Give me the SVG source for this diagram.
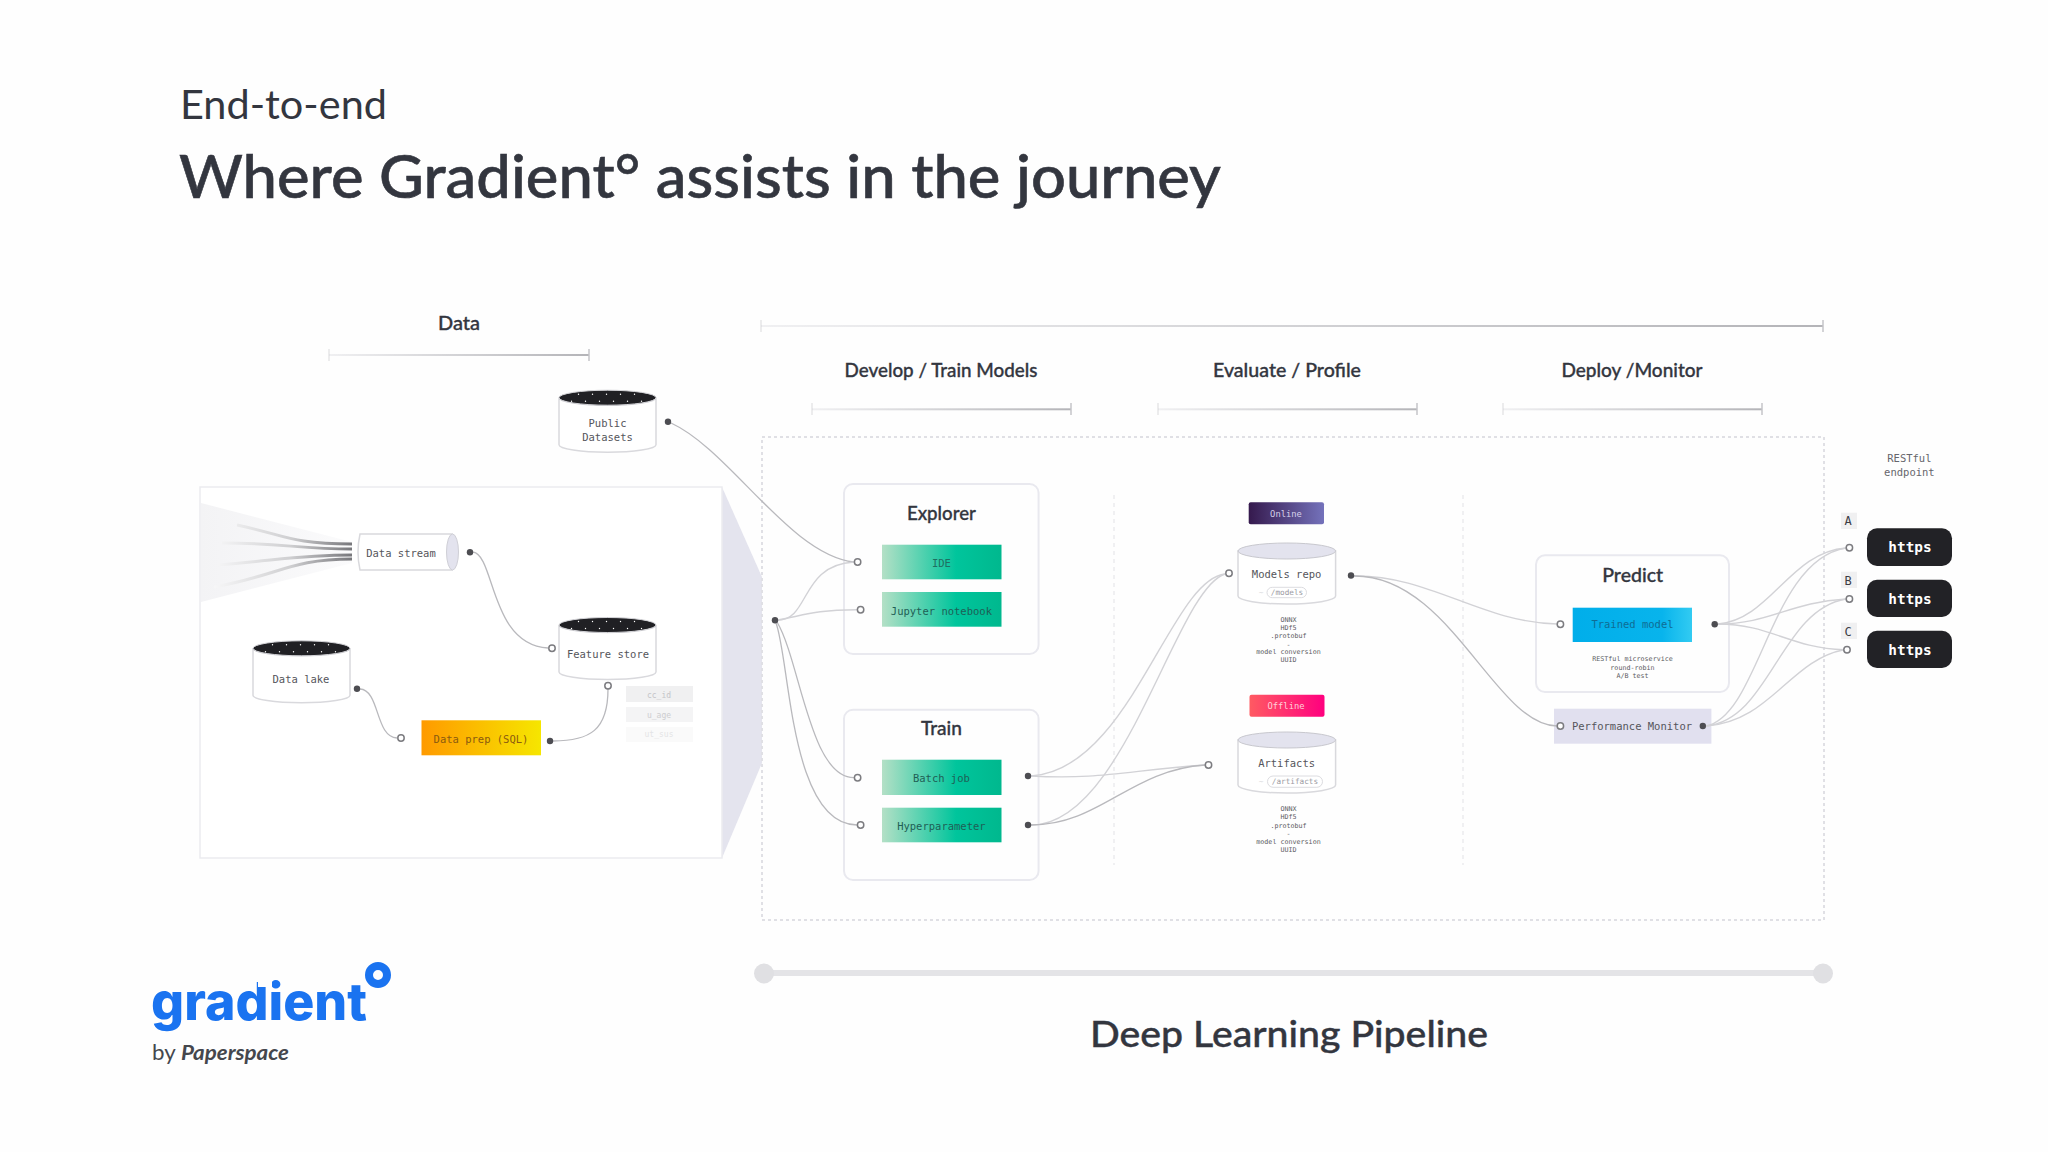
<svg xmlns="http://www.w3.org/2000/svg" width="2048" height="1152" viewBox="0 0 2048 1152">
<style>
text{font-family:"Lato","Noto Sans","Liberation Sans",sans-serif;fill:#33363f}
.h{font-size:20px;font-weight:500;text-anchor:middle;stroke:#33363f;stroke-width:.35}
.m{font-family:"DejaVu Sans Mono","Liberation Mono",monospace;font-size:10.5px;text-anchor:middle;fill:#55555b}
.s{font-family:"DejaVu Sans Mono","Liberation Mono",monospace;font-size:6.7px;text-anchor:middle;fill:#5c5c62}
.l{font-family:"DejaVu Sans Mono","Liberation Mono",monospace;font-size:8px;text-anchor:middle;fill:#c4c4c8}
.p{font-family:"DejaVu Sans Mono","Liberation Mono",monospace;font-size:7.7px;text-anchor:middle;fill:#9a9aa2}
.b{font-family:"DejaVu Sans Mono","Liberation Mono",monospace;font-size:8.8px;text-anchor:middle}
.w{font-family:"DejaVu Sans Mono","Liberation Mono",monospace;font-size:14.4px;font-weight:700;text-anchor:middle;fill:#fff}
.ab{font-family:"DejaVu Sans Mono","Liberation Mono",monospace;font-size:12px;text-anchor:middle;fill:#3c3c44}
.card{fill:none;stroke:#e9e9ef;stroke-width:2}
.cyl{fill:#fff;stroke:#d9d9dd;stroke-width:1.5}
.c{fill:none;stroke:#d2d2d6;stroke-width:1.4}
.cd{fill:none;stroke:#b9b9bd;stroke-width:1.3}
.dot{fill:#4d4d52}
.open{fill:#fff;stroke:#7c7c80;stroke-width:1.5}
.pill{fill:#fff;stroke:#dcdce0;stroke-width:1}
.dash{fill:none;stroke:#e0e0e5;stroke-width:2;stroke-dasharray:3 3}
.lg{fill:#e3e3ee;stroke:#cfcfd6;stroke-width:1}
.dv{stroke:#ebebee;stroke-width:1.5;stroke-dasharray:4 4}
.tag{fill:#f0f0f1}
</style>
<defs>
<linearGradient id="bar"><stop offset="0" stop-color="#f0f0f2"/><stop offset="1" stop-color="#b4b4b8"/></linearGradient>
<linearGradient id="g"><stop offset="0" stop-color="#b4e0c6"/><stop offset=".62" stop-color="#00c59c"/><stop offset="1" stop-color="#00b88e"/></linearGradient>
<linearGradient id="o"><stop offset="0" stop-color="#ff9a00"/><stop offset="1" stop-color="#f6e600"/></linearGradient>
<linearGradient id="on"><stop offset="0" stop-color="#35194d"/><stop offset="1" stop-color="#7472bb"/></linearGradient>
<linearGradient id="off"><stop offset="0" stop-color="#ff5a62"/><stop offset="1" stop-color="#ff007f"/></linearGradient>
<linearGradient id="bl"><stop offset="0" stop-color="#00aeea"/><stop offset=".75" stop-color="#08b4ec"/><stop offset="1" stop-color="#32cbf2"/></linearGradient>
<linearGradient id="wedge"><stop offset="0" stop-color="#f3f3f5"/><stop offset="1" stop-color="#fbfbfc"/></linearGradient>
<linearGradient id="st" gradientUnits="userSpaceOnUse" x1="215" y1="0" x2="352" y2="0"><stop offset="0" stop-color="#f6f6f7"/><stop offset=".55" stop-color="#cfcfd1"/><stop offset="1" stop-color="#77777b"/></linearGradient>
<g id="top">
<ellipse cx="0" cy="0" rx="48.5" ry="7.5" fill="#202024" stroke="#d4d4d8" stroke-width="1"/>
<g fill="#fff"><circle cx="-29" cy="-3.5" r=".7"/><circle cx="-15" cy="-3.5" r=".7"/><circle cx="-1" cy="-3.5" r=".7"/><circle cx="13" cy="-3.5" r=".7"/><circle cx="27" cy="-3.5" r=".7"/><circle cx="-36" cy="3.5" r=".7"/><circle cx="-22" cy="3.5" r=".7"/><circle cx="-8" cy="3.5" r=".7"/><circle cx="6" cy="3.5" r=".7"/><circle cx="20" cy="3.5" r=".7"/><circle cx="34" cy="3.5" r=".7"/></g>
</g>
<path id="body" d="M-48.5 0V47A48.5 7.5 0 0 0 48.5 47V0A48.5 7.5 0 0 1 -48.5 0Z" class="cyl"/>
<path id="tick" d="M0-6V6" stroke="#c4c4c8" stroke-width="1.5"/>
</defs>
<rect width="2048" height="1152" fill="#fefefe"/>

<g id="header">
<text x="180" y="119" font-size="40" textLength="207" lengthAdjust="spacingAndGlyphs">End-to-end</text>
<text x="179" y="198" font-size="60" font-weight="500" stroke="#33363f" stroke-width=".6" textLength="1042" lengthAdjust="spacingAndGlyphs">Where Gradient° assists in the journey</text>
</g>

<g id="brackets">
<text class="h" x="459" y="330" textLength="42" lengthAdjust="spacingAndGlyphs">Data</text>
<rect x="329" y="354" width="260" height="2" fill="url(#bar)"/><use href="#tick" x="329" y="355" opacity=".4"/><use href="#tick" x="589" y="355"/>
<rect x="761" y="325" width="1062" height="2" fill="url(#bar)"/><use href="#tick" x="761" y="326" opacity=".4"/><use href="#tick" x="1823" y="326"/>
<text class="h" x="941" y="377" textLength="193" lengthAdjust="spacingAndGlyphs">Develop / Train Models</text>
<text class="h" x="1287" y="377" textLength="148" lengthAdjust="spacingAndGlyphs">Evaluate / Profile</text>
<text class="h" x="1632" y="377" textLength="141" lengthAdjust="spacingAndGlyphs">Deploy /Monitor</text>
<rect x="812" y="408.3" width="259" height="2" fill="url(#bar)"/><use href="#tick" x="812" y="409" opacity=".4"/><use href="#tick" x="1071" y="409"/>
<rect x="1158" y="408.3" width="259" height="2" fill="url(#bar)"/><use href="#tick" x="1158" y="409" opacity=".4"/><use href="#tick" x="1417" y="409"/>
<rect x="1503" y="408.3" width="259" height="2" fill="url(#bar)"/><use href="#tick" x="1503" y="409" opacity=".4"/><use href="#tick" x="1762" y="409"/>
</g>

<g id="data-panel">
<polygon points="722,487 762,577 762,763 722,858" fill="#e4e4ee"/>
<rect x="200" y="487" width="522" height="371" fill="#fff" stroke="#ebebef" stroke-width="1.5"/>
<polygon points="201,503 352,542 352,563 201,602" fill="url(#wedge)"/>
<g fill="none" stroke="url(#st)" stroke-width="3">
<path d="M237 525C285 535 290 544 352 544"/>
<path d="M222 543C280 543 300 549 352 549"/>
<path d="M218 565C280 560 300 555 352 555"/>
<path d="M214 587C280 575 290 559 352 559"/>
</g>
</g>
<rect id="pipeline-frame" class="dash" x="762" y="437" width="1062" height="483"/>
<line class="dv" x1="1114" y1="495" x2="1114" y2="865"/>
<line class="dv" x1="1463" y1="495" x2="1463" y2="865"/>

<g id="explorer">
<rect class="card" x="844" y="484" width="194.6" height="170" rx="9"/>
<text class="h" x="941.4" y="519.8" textLength="69" lengthAdjust="spacingAndGlyphs">Explorer</text>
<rect x="882" y="544.7" width="119.5" height="34.6" fill="url(#g)"/><text class="m" x="941.4" y="566.7" style="fill:#1f6f62">IDE</text>
<rect x="882" y="592" width="119.5" height="34.7" fill="url(#g)"/><text class="m" x="941.4" y="615" style="fill:#1f5f56">Jupyter notebook</text>
</g>
<g id="train">
<rect class="card" x="844" y="709.7" width="194.6" height="170.3" rx="9"/>
<text class="h" x="941.4" y="734.8" textLength="41" lengthAdjust="spacingAndGlyphs">Train</text>
<rect x="882" y="759.7" width="119.5" height="35.3" fill="url(#g)"/><text class="m" x="941.4" y="782" style="fill:#1f5f56">Batch job</text>
<rect x="882" y="807.7" width="119.5" height="34.6" fill="url(#g)"/><text class="m" x="941.4" y="830" style="fill:#1f5f56">Hyperparameter</text>
</g>
<g id="predict">
<rect class="card" x="1536" y="555.3" width="193" height="136.7" rx="9"/>
<text class="h" x="1632.7" y="582.2" textLength="61" lengthAdjust="spacingAndGlyphs">Predict</text>
<rect x="1572.7" y="607.7" width="119.3" height="34.3" fill="url(#bl)"/><text class="m" x="1632.5" y="627.7" style="fill:#0f6d94">Trained model</text>
<text class="s" x="1632.5" y="661.3">RESTful microservice</text><text class="s" x="1632.5" y="669.7">round-robin</text><text class="s" x="1632.5" y="677.7">A/B test</text>
</g>
<g id="performance-monitor">
<rect x="1554" y="708.7" width="157.4" height="35" fill="#e1e0ef"/>
<text class="m" x="1632" y="730">Performance Monitor</text>
</g>

<g id="connectors">
<path class="cd" d="M671 423C730 450 790 555 854 562"/>
<path class="c" d="M778 620C810 620 800 565 854 562"/>
<path class="c" d="M778 620C805 615 815 610 857 609.7"/>
<path class="cd" d="M777 622C800 660 810 778 854 777.7"/>
<path class="cd" d="M776 623C790 660 790 825 857 825"/>
<path class="cd" d="M473 552C495 555 490 645 548 648"/>
<path class="cd" d="M360 689C380 690 375 737 397 738"/>
<path class="cd" d="M553 741C590 741 608 730 608 689"/>
<path class="c" d="M1031 776C1130 770 1170 580 1225 574"/>
<path class="c" d="M1031 825C1125 825 1175 590 1225 574"/>
<path class="c" d="M1031 776C1100 780 1130 770 1205 765"/>
<path class="cd" d="M1031 825C1100 825 1130 770 1205 765"/>
<path class="c" d="M1354 576C1430 575 1480 622 1557 624"/>
<path class="cd" d="M1354 576C1450 575 1495 725 1557 726"/>
<path class="c" d="M1718 624C1770 620 1790 552 1846 548"/>
<path class="c" d="M1718 624C1770 624 1790 602 1846 599"/>
<path class="c" d="M1718 624C1770 624 1790 648 1844 649.7"/>
<path class="c" d="M1706 726C1760 715 1770 560 1846 548"/>
<path class="c" d="M1706 726C1770 720 1780 610 1846 599"/>
<path class="c" d="M1706 726C1770 722 1790 660 1844 649.7"/>
</g>

<g id="ports">
<circle class="open" cx="857.6" cy="562" r="3.2"/><circle class="open" cx="860.6" cy="609.7" r="3.2"/>
<circle id="fan-out" class="dot" cx="775" cy="620.3" r="3.2"/>
<circle class="open" cx="857.6" cy="777.7" r="3.2"/><circle class="open" cx="860.6" cy="825" r="3.2"/>
<circle class="dot" cx="1028" cy="776" r="3.2"/><circle class="dot" cx="1028" cy="825" r="3.2"/>
<circle class="open" cx="1560.4" cy="624.3" r="3.2"/><circle class="dot" cx="1714.7" cy="624.3" r="3.2"/>
<circle class="open" cx="1560.4" cy="726" r="3.2"/><circle class="dot" cx="1702.8" cy="726" r="3.2"/>
</g>

<g id="public-datasets">
<use href="#body" x="607.5" y="397.7"/><use href="#top" x="607.5" y="397.7"/>
<text class="m" x="607.5" y="426.7">Public</text><text class="m" x="607.5" y="440.7">Datasets</text>
<circle class="dot" cx="668" cy="421.7" r="3.2"/>
</g>
<g id="data-stream">
<path d="M360 534H452V570H360Q356 552 360 534Z" class="cyl"/>
<ellipse class="lg" cx="452.5" cy="552" rx="6" ry="18"/>
<text class="m" x="401" y="557">Data stream</text>
<circle class="dot" cx="470" cy="552.3" r="3.2"/>
</g>
<g id="data-lake">
<use href="#body" x="301.5" y="648.3"/><use href="#top" x="301.5" y="648.3"/>
<text class="m" x="301" y="682.7">Data lake</text>
<circle class="dot" cx="357" cy="688.7" r="3.2"/>
</g>
<g id="feature-store">
<use href="#body" x="607.5" y="625"/><use href="#top" x="607.5" y="625"/>
<text class="m" x="608" y="657.7">Feature store</text>
<circle class="open" cx="552" cy="648.3" r="3.2"/><circle class="open" cx="608" cy="685.7" r="3.2"/>
<rect class="tag" x="626" y="686" width="67" height="16"/><text class="l" x="659" y="698">cc_id</text>
<rect class="tag" x="626" y="707" width="67" height="15" opacity=".7"/><text class="l" x="659" y="718" opacity=".8">u_age</text>
<rect class="tag" x="626" y="727" width="67" height="15" opacity=".35"/><text class="l" x="659" y="737" opacity=".4">ut_sus</text>
</g>
<g id="data-prep">
<rect x="421.5" y="720.3" width="119.5" height="35" fill="url(#o)"/>
<text class="m" x="481" y="742.7" style="fill:#8a5a10">Data prep (SQL)</text>
<circle class="open" cx="401" cy="738" r="3.2"/><circle class="dot" cx="550" cy="741" r="3.2"/>
</g>

<g id="models-repo">
<rect x="1248.7" y="502.3" width="75.3" height="22" rx="2" fill="url(#on)"/><text class="b" x="1286" y="516.7" style="fill:#d6d0ea">Online</text>
<path class="cyl" d="M1238 551V596A48.8 8 0 0 0 1335.6 596V551Z"/><ellipse class="lg" cx="1286.8" cy="551" rx="48.8" ry="8" style="stroke:#c8c8ce"/>
<text class="m" x="1286.6" y="578">Models repo</text>
<text class="p" x="1261" y="595" style="fill:#dcdce0">~</text><rect class="pill" x="1267" y="587.3" width="39.5" height="10.4" rx="5.2"/><text class="p" x="1287" y="595">/models</text>
<text class="s" x="1288.5" y="622">ONNX</text><text class="s" x="1288.5" y="630">HDf5</text><text class="s" x="1288.5" y="638">.protobuf</text><text class="s" x="1288.5" y="646.5">-</text><text class="s" x="1288.5" y="654.3">model conversion</text><text class="s" x="1288.5" y="662.3">UUID</text>
<circle class="open" cx="1229" cy="573.3" r="3.2"/><circle class="dot" cx="1351" cy="575.5" r="3.2"/>
</g>
<g id="artifacts">
<rect x="1249.5" y="694.7" width="75" height="22" rx="2" fill="url(#off)"/><text class="b" x="1286" y="709.3" style="fill:#ffd0d8">Offline</text>
<path class="cyl" d="M1238 740V785A48.8 8 0 0 0 1335.6 785V740Z"/><ellipse class="lg" cx="1286.8" cy="740" rx="48.8" ry="8" style="stroke:#c8c8ce"/>
<text class="m" x="1286.6" y="766.7">Artifacts</text>
<text class="p" x="1261" y="784" style="fill:#dcdce0">~</text><rect class="pill" x="1267.5" y="776" width="55" height="11.3" rx="5.6"/><text class="p" x="1295" y="784">/artifacts</text>
<text class="s" x="1288.5" y="811">ONNX</text><text class="s" x="1288.5" y="819.3">HDf5</text><text class="s" x="1288.5" y="827.7">.protobuf</text><text class="s" x="1288.5" y="836">-</text><text class="s" x="1288.5" y="843.7">model conversion</text><text class="s" x="1288.5" y="851.7">UUID</text>
<circle class="open" cx="1208.5" cy="765" r="3.2"/>
</g>

<g id="endpoints">
<text class="m" x="1909.4" y="462" style="fill:#66666c">RESTful</text><text class="m" x="1909.4" y="476" style="fill:#66666c">endpoint</text>
<g id="endpoint-a"><rect class="tag" x="1841" y="512.7" width="16" height="16.3"/><text class="ab" x="1848" y="525">A</text>
<rect x="1867" y="528.3" width="85" height="37.7" rx="10" fill="#222226"/><text class="w" x="1910" y="552">https</text><circle class="open" cx="1849.4" cy="547.7" r="3.2"/></g>
<g id="endpoint-b"><rect class="tag" x="1841" y="571.7" width="16" height="16.3"/><text class="ab" x="1848" y="585">B</text>
<rect x="1867" y="579.7" width="85" height="37.3" rx="10" fill="#222226"/><text class="w" x="1910" y="603.7">https</text><circle class="open" cx="1849.4" cy="599" r="3.2"/></g>
<g id="endpoint-c"><rect class="tag" x="1841" y="622.7" width="16" height="16.3"/><text class="ab" x="1848" y="635.7">C</text>
<rect x="1867" y="630.7" width="85" height="37.3" rx="10" fill="#222226"/><text class="w" x="1910" y="654.7">https</text><circle class="open" cx="1847" cy="649.7" r="3.2"/></g>
</g>

<g id="pipeline-bar">
<rect x="764" y="970" width="1059" height="6" fill="#e4e4e7"/>
<circle cx="764" cy="973.5" r="10" fill="#e0e0e3"/><circle cx="1823" cy="973.5" r="10" fill="#e0e0e3"/>
<text x="1289" y="1047" font-size="37" font-weight="500" stroke="#33363f" stroke-width=".4" text-anchor="middle" textLength="398" lengthAdjust="spacingAndGlyphs">Deep Learning Pipeline</text>
</g>

<g id="logo">
<text x="151" y="1020" font-size="52" font-weight="800" style="fill:#1a73f0;font-family:Inter,Lato,sans-serif" textLength="216" lengthAdjust="spacingAndGlyphs">gradient</text>
<rect x="258" y="976" width="14" height="11" fill="#fefefe"/>
<circle cx="378" cy="975" r="9" fill="none" stroke="#1a73f0" stroke-width="8"/>
<text x="152" y="1060" font-size="21" style="fill:#45474d" textLength="137" lengthAdjust="spacingAndGlyphs">by <tspan font-weight="700" font-style="italic">Paperspace</tspan></text>
</g>
</svg>
